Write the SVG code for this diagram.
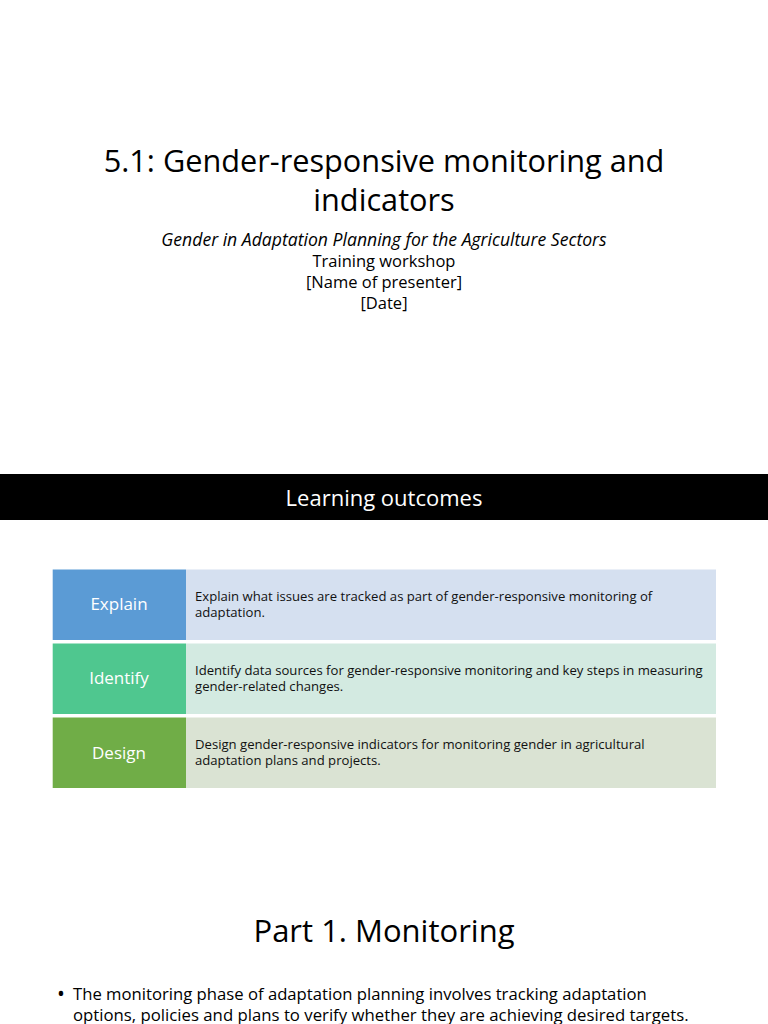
<svg xmlns="http://www.w3.org/2000/svg" width="768" height="1024" viewBox="0 0 768 1024">
<style>
text{font-family:"Open Sans","Noto Sans","Liberation Sans",sans-serif;fill:#000}
.m{text-anchor:middle}
.t{font-size:30.7px}
.s{font-size:16.5px}
.b{font-size:13.13px;fill:#111}
.l{font-size:17px;fill:#fff;text-anchor:middle}
</style>
<rect width="768" height="1024" fill="#fff"/>
<g id="title">
<text class="t m" x="384" y="172">5.1: Gender-responsive monitoring and</text>
<text class="t m" x="384" y="211">indicators</text>
<text class="m" x="384" y="245.5" font-size="17.6" font-style="italic">Gender in Adaptation Planning for the Agriculture Sectors</text>
<text class="s m" x="384" y="266.5">Training workshop</text>
<text class="s m" x="384" y="287.5">[Name of presenter]</text>
<text class="s m" x="384" y="308.5">[Date]</text>
</g>
<g id="banner">
<rect x="0" y="474" width="768" height="46" fill="#000"/>
<text class="m" x="384" y="506" font-size="22" style="fill:#fff">Learning outcomes</text>
</g>
<g id="explain">
<rect x="52.7" y="569.5" width="133.3" height="70.5" fill="#5b9bd5"/>
<rect x="186" y="569.5" width="530" height="70.5" fill="#d5e0f0"/>
<text class="l" x="119" y="610">Explain</text>
<text class="b" x="195" y="601">Explain what issues are tracked as part of gender-responsive monitoring of</text>
<text class="b" x="195" y="617">adaptation.</text>
</g>
<g id="identify">
<rect x="52.7" y="643.5" width="133.3" height="70.5" fill="#4fc78f"/>
<rect x="186" y="643.5" width="530" height="70.5" fill="#d3eae1"/>
<text class="l" x="119" y="684">Identify</text>
<text class="b" x="195" y="675">Identify data sources for gender-responsive monitoring and key steps in measuring</text>
<text class="b" x="195" y="691">gender-related changes.</text>
</g>
<g id="design">
<rect x="52.7" y="717.5" width="133.3" height="70.5" fill="#70ad47"/>
<rect x="186" y="717.5" width="530" height="70.5" fill="#dae3d3"/>
<text class="l" x="119" y="758.5">Design</text>
<text class="b" x="195" y="749">Design gender-responsive indicators for monitoring gender in agricultural</text>
<text class="b" x="195" y="765">adaptation plans and projects.</text>
</g>
<g id="part1">
<text class="m" x="384" y="942" font-size="31">Part 1. Monitoring</text>
<text x="57" y="1001" font-size="21">•</text>
<text x="73" y="1000" font-size="16.68">The monitoring phase of adaptation planning involves tracking adaptation</text>
<text x="73" y="1021" font-size="16.75">options, policies and plans to verify whether they are achieving desired targets.</text>
</g>
</svg>
